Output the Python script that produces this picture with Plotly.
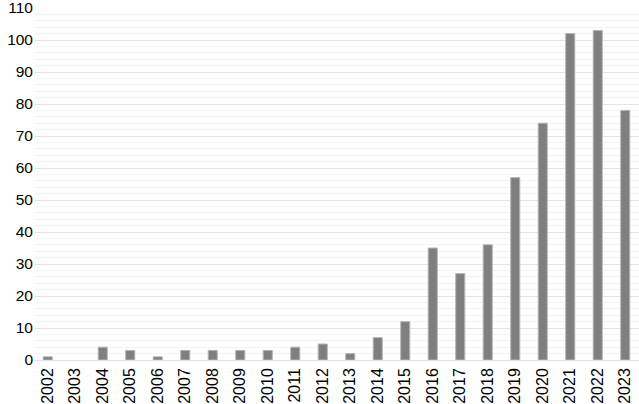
import plotly.graph_objects as go

years = [str(y) for y in range(2002, 2024)]
counts = [1, 0, 4, 3, 1, 3, 3, 3, 3, 4, 5, 2, 7, 12, 35, 27, 36, 57, 74, 102, 103, 78]
y_ticks = list(range(0, 111, 10))

edge = ["rgba(0,0,0,0)" if v == 0 else "#b5b5b5" for v in counts]

fig = go.Figure(go.Bar(
    x=years, y=counts,
    marker=dict(color="#7f7f7f", line=dict(color=edge, width=1)),
    width=0.33,
))
fig.update_layout(
    width=639, height=404,
    margin=dict(l=34, r=0, t=8, b=44, autoexpand=False),
    plot_bgcolor="white", paper_bgcolor="white",
    font=dict(family="Liberation Sans, Arial", size=15, color="black"),
    showlegend=False,
)
fig.update_xaxes(
    type="category", tickangle=-90, showgrid=False, showline=False,
    ticks="", ticklen=0, tickfont=dict(size=16), automargin=False,
    ticklabelstandoff=4, ticklabeloverflow="allow",
)
fig.update_yaxes(
    range=[0, 110], tickvals=y_ticks, showgrid=True, gridcolor="#e3e3e3", gridwidth=1,
    zeroline=True, zerolinecolor="#e3e3e3", zerolinewidth=1,
    ticks="", tickfont=dict(size=15.5), ticksuffix="  ",
    automargin=False, ticklabeloverflow="allow",
    minor=dict(dtick=2, tick0=0, showgrid=True, gridcolor="#f3f3f3", gridwidth=1),
)
fig.write_html("out.html", config={"displayModeBar": False},
               post_script="document.body.style.margin='0';")
